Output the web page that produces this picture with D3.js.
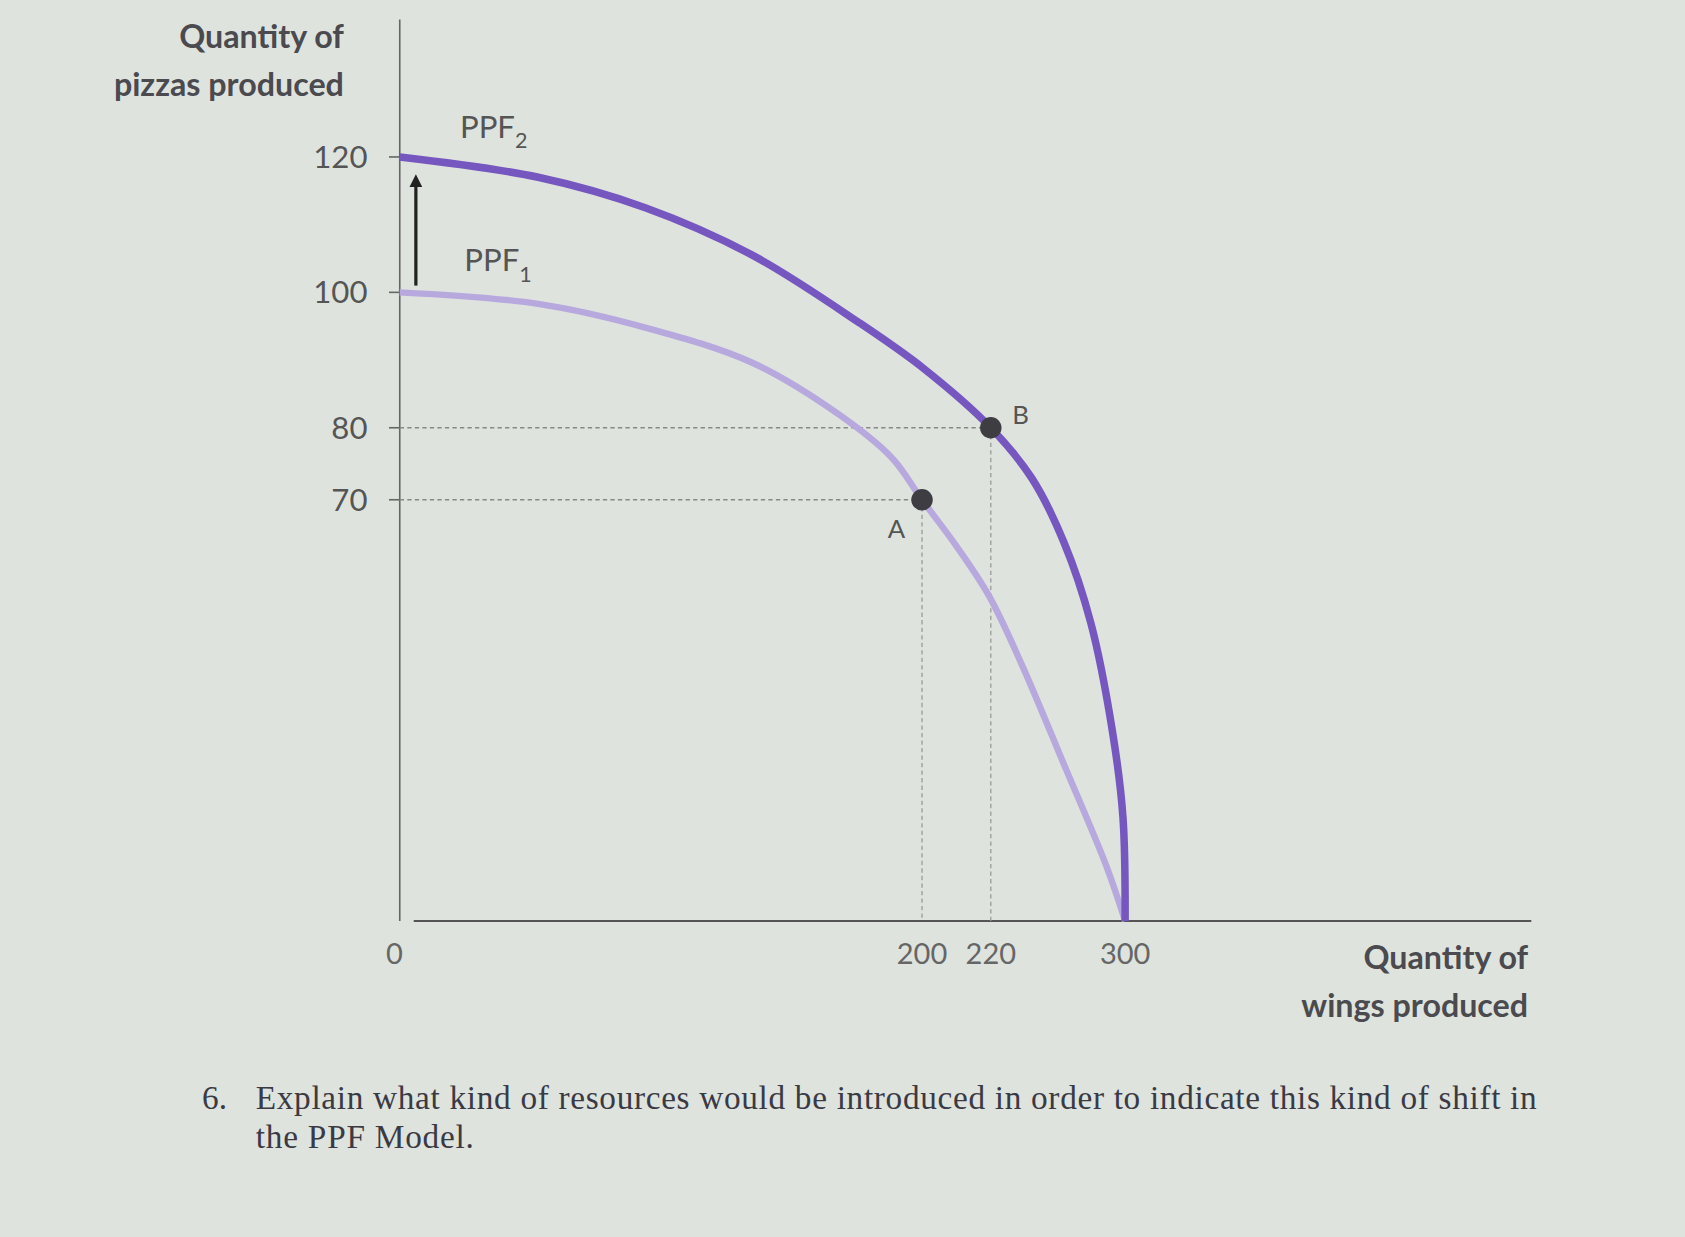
<!DOCTYPE html>
<html><head><meta charset="utf-8">
<script src="https://cdn.jsdelivr.net/npm/d3@7"></script>
<style>body{margin:0;background:#dfe3de;}svg{display:block}</style>
</head><body>
<svg id="c" width="1685" height="1237" viewBox="0 0 1568 1151"></svg>
<script>
const ppf2 = [[0,120],[53,117],[94,112.5],[135,105.5],[176,95.5],[200.6,88.7],[220,80],[244.4,73],[263.6,62.9],[279.6,49.5],[292.4,31.6],[298.7,17.3],[300,0]];
const ppf1 = [[0,100],[53,98.3],[94,94.8],[135,89.6],[168,82],[188.5,75.8],[200,70],[210,62.3],[219.4,54.1],[238,42.9],[263.6,26],[289,9],[300,0]];
const points = [{name:"A",x:200,y:70},{name:"B",x:220,y:80}];
const yTicks = [120,100,80,70];
const xTicks = [0,200,220,300];

const svg = d3.select("#c");
svg.append("rect").attr("width",1568).attr("height",1151).attr("fill","#dfe3de");
const x = d3.scaleLinear().domain([0,200,220,300]).range([372,858,922,1047]);
const y = d3.scaleLinear().domain([0,70,80,100,120]).range([857,465,398,272,146]);
const axisX = 372;

svg.append("line").attr("x1",axisX).attr("x2",axisX).attr("y1",18).attr("y2",857).attr("stroke","#666").attr("stroke-width",1.5);
svg.append("line").attr("x1",385).attr("x2",1425).attr("y1",857).attr("y2",857).attr("stroke","#555").attr("stroke-width",1.8);
yTicks.forEach(t=>{
  svg.append("line").attr("x1",axisX-10).attr("x2",axisX).attr("y1",y(t)).attr("y2",y(t)).attr("stroke","#666").attr("stroke-width",1.5);
  svg.append("text").attr("x",342).attr("y",y(t)).attr("dy","0.35em").attr("text-anchor","end")
    .attr("font-family","Lato, sans-serif").attr("font-size",29).attr("fill","#555").text(t);
});
xTicks.forEach(t=>{
  svg.append("text").attr("x",t===0?367:x(t)).attr("y",888).attr("dy","0.35em").attr("text-anchor","middle")
    .attr("font-family","Lato, sans-serif").attr("font-size",27).attr("fill","#666").text(t);
});
points.forEach(p=>{
  svg.append("line").attr("x1",axisX).attr("x2",x(p.x)).attr("y1",y(p.y)).attr("y2",y(p.y)).attr("stroke","#888").attr("stroke-width",1.5).attr("stroke-dasharray","4,3");
  svg.append("line").attr("x1",x(p.x)).attr("x2",x(p.x)).attr("y1",y(p.y)).attr("y2",857).attr("stroke","#999").attr("stroke-width",1.2).attr("stroke-dasharray","4,3");
});
const line = d3.line().x(d=>x(d[0])).y(d=>y(d[1])).curve(d3.curveCatmullRom.alpha(0.5));
svg.append("path").datum(ppf1).attr("d",line).attr("fill","none").attr("stroke","#b7a9de").attr("stroke-width",6);
svg.append("path").datum(ppf2).attr("d",line).attr("fill","none").attr("stroke","#7657c0").attr("stroke-width",7);
points.forEach(p=>{
  svg.append("circle").attr("cx",x(p.x)).attr("cy",y(p.y)).attr("r",10).attr("fill","#3d3d42");
});
svg.append("text").attr("x",826).attr("y",492).attr("dy","0.35em").attr("font-family","Lato, sans-serif").attr("font-size",24).attr("fill","#555").text("A");
svg.append("text").attr("x",942).attr("y",386).attr("dy","0.35em").attr("font-family","Lato, sans-serif").attr("font-size",24).attr("fill","#555").text("B");
svg.append("defs").append("marker").attr("id","ah").attr("viewBox","0 0 10 10").attr("refX",5).attr("refY",5)
  .attr("markerWidth",4).attr("markerHeight",4).attr("orient","auto").append("path").attr("d","M0,0L10,5L0,10z").attr("fill","#222");
svg.append("line").attr("x1",387).attr("x2",387).attr("y1",y(101)).attr("y2",y(116.5)).attr("stroke","#222").attr("stroke-width",3).attr("marker-end","url(#ah)");
const lab=(tx,sub,xx,yy)=>{const t=svg.append("text").attr("x",xx).attr("y",yy).attr("font-family","Lato, sans-serif").attr("font-size",29).attr("fill","#555");
  t.append("tspan").text(tx); t.append("tspan").attr("dy",10).attr("font-size",20).text(sub);};
lab("PPF","2",428,128); lab("PPF","1",432,252);
const title=(lines,xx,yy,anchor)=>lines.forEach((l,i)=>svg.append("text").attr("x",xx).attr("y",yy+i*44).attr("text-anchor",anchor)
  .attr("font-family","Lato, sans-serif").attr("font-weight","bold").attr("font-size",30).attr("fill","#4a4a4f").text(l));
title(["Quantity of","pizzas produced"],320,45,"end");
title(["Quantity of","wings produced"],1422,902,"end");
const q=(s,xx,yy,len)=>{const t=svg.append("text").attr("x",xx).attr("y",yy).attr("font-family","Liberation Serif, serif").attr("font-size",31).attr("fill","#3a3a44").text(s); if(len) t.attr("textLength",len).attr("lengthAdjust","spacing");};
q("6.",188,1032);
q("Explain what kind of resources would be introduced in order to indicate this kind of shift in",238,1032,1192);
q("the PPF Model.",238,1068,203);
</script>
</body></html>
